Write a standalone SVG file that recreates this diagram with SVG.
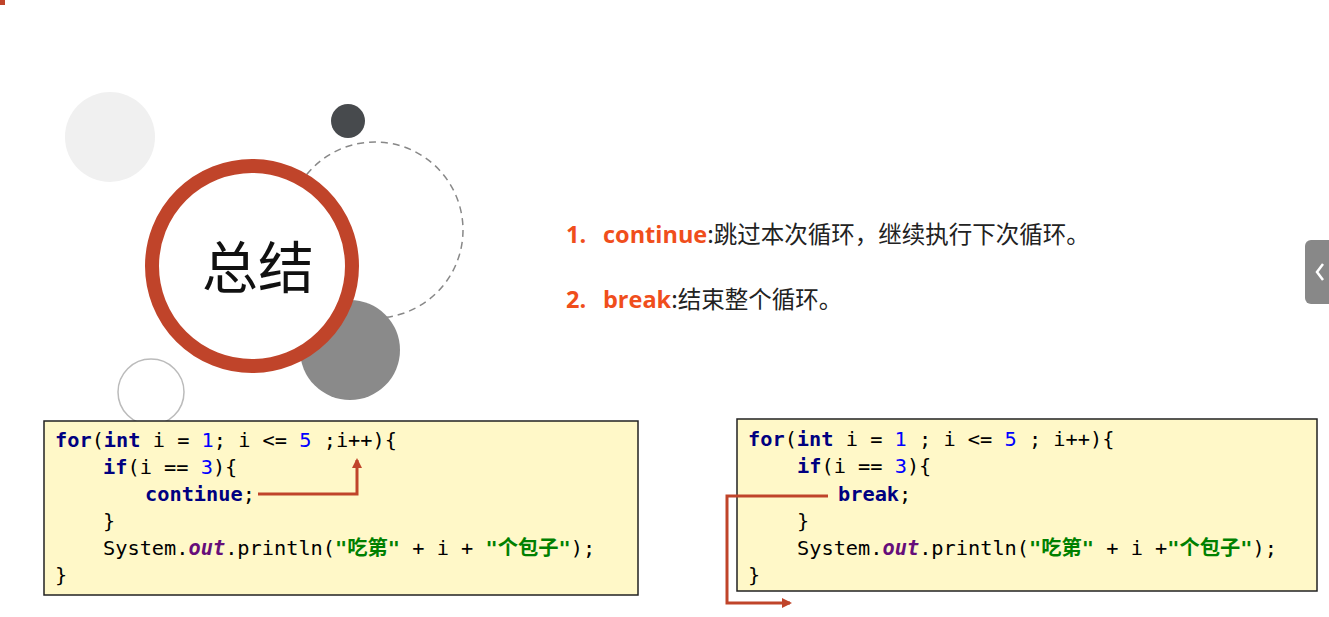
<svg xmlns="http://www.w3.org/2000/svg" width="1329" height="617" viewBox="0 0 1329 617">
<style>
.code{font-family:"DejaVu Sans Mono","Liberation Mono","Noto Sans CJK SC",monospace;font-size:20.3px;fill:#000}
.kw{fill:#000080;font-weight:bold}
.num{fill:#0000ff}
.str{fill:#008000;font-weight:bold}
.fld{fill:#660e7a;font-style:italic;font-weight:bold}
.box{fill:#fff8c8;stroke:#222;stroke-width:1.5}
.conn{fill:none;stroke:#c0442a;stroke-width:3}
.lt{font-family:"Noto Sans CJK SC",sans-serif;font-size:23.5px;fill:#222}
.hl{fill:#f04e1c;font-weight:bold;font-family:"Open Sans","Noto Sans CJK SC",sans-serif}
</style>
<defs><marker id="ah" markerWidth="12" markerHeight="12" refX="8" refY="6" orient="auto" markerUnits="userSpaceOnUse"><path d="M0,1 L10,6 L0,11 z" fill="#c0442a"/></marker></defs>
<rect width="1329" height="617" fill="#fff"/>
<rect x="0" y="0" width="5" height="5" fill="#c0442a"/>
<rect x="1305" y="240" width="30" height="64" rx="6" fill="#888"/>
<path d="M1323,264 L1317,272 L1323,280" fill="none" stroke="#fff" stroke-width="2.5"/>
<g id="deco">
<circle cx="110" cy="137" r="45" fill="#f0f0f0"/>
<circle cx="348" cy="121" r="17" fill="#474a4d"/>
<circle cx="375" cy="230" r="88" fill="none" stroke="#888" stroke-width="1.5" stroke-dasharray="7,5"/>
<circle cx="350" cy="350" r="50" fill="#8a8a8a"/>
<circle cx="151" cy="392" r="33" fill="#fff" stroke="#bbb" stroke-width="1.5"/>
</g>
<g id="title">
<circle cx="252" cy="266" r="100" fill="#fff" stroke="#c0442a" stroke-width="14"/>
<text x="258" y="288" text-anchor="middle" font-family="Noto Sans CJK SC,sans-serif" font-size="56" fill="#111">总结</text>
</g>
<g id="list">
<text y="243" class="lt"><tspan x="566" class="hl">1.</tspan><tspan x="603" class="hl">continue</tspan>:跳过本次循环，继续执行下次循环。</text>
<text y="308" class="lt"><tspan x="566" class="hl">2.</tspan><tspan x="603" class="hl">break</tspan>:结束整个循环。</text>
</g>
<g id="code-continue">
<rect x="44" y="421" width="594" height="174" class="box"/>
<text class="code" xml:space="preserve"><tspan x="55" y="447"><tspan class="kw">for</tspan>(<tspan class="kw">int</tspan> i = <tspan class="num">1</tspan>; i &lt;= <tspan class="num">5</tspan> ;i++){</tspan><tspan x="103" y="474"><tspan class="kw">if</tspan>(i == <tspan class="num">3</tspan>){</tspan><tspan x="145" y="501"><tspan class="kw">continue</tspan>;</tspan><tspan x="103" y="528">}</tspan><tspan x="103" y="555">System.<tspan class="fld">out</tspan>.println(<tspan class="str">"吃第"</tspan> + i + <tspan class="str">"个包子"</tspan>);</tspan><tspan x="55" y="582">}</tspan></text>
</g>
<g id="code-break">
<rect x="737" y="419" width="580" height="172" class="box"/>
<text class="code" xml:space="preserve"><tspan x="748" y="446"><tspan class="kw">for</tspan>(<tspan class="kw">int</tspan> i = <tspan class="num">1</tspan> ; i &lt;= <tspan class="num">5</tspan> ; i++){</tspan><tspan x="797" y="473"><tspan class="kw">if</tspan>(i == <tspan class="num">3</tspan>){</tspan><tspan x="838" y="501"><tspan class="kw">break</tspan>;</tspan><tspan x="797" y="528">}</tspan><tspan x="797" y="555">System.<tspan class="fld">out</tspan>.println(<tspan class="str">"吃第"</tspan> + i +<tspan class="str">"个包子"</tspan>);</tspan><tspan x="748" y="582">}</tspan></text>
</g>
<g id="connectors">
<path class="conn" d="M258,494 H357 V460" marker-end="url(#ah)"/>
<path class="conn" d="M828,496 H727 V603 H790" marker-end="url(#ah)"/>
</g>
</svg>
